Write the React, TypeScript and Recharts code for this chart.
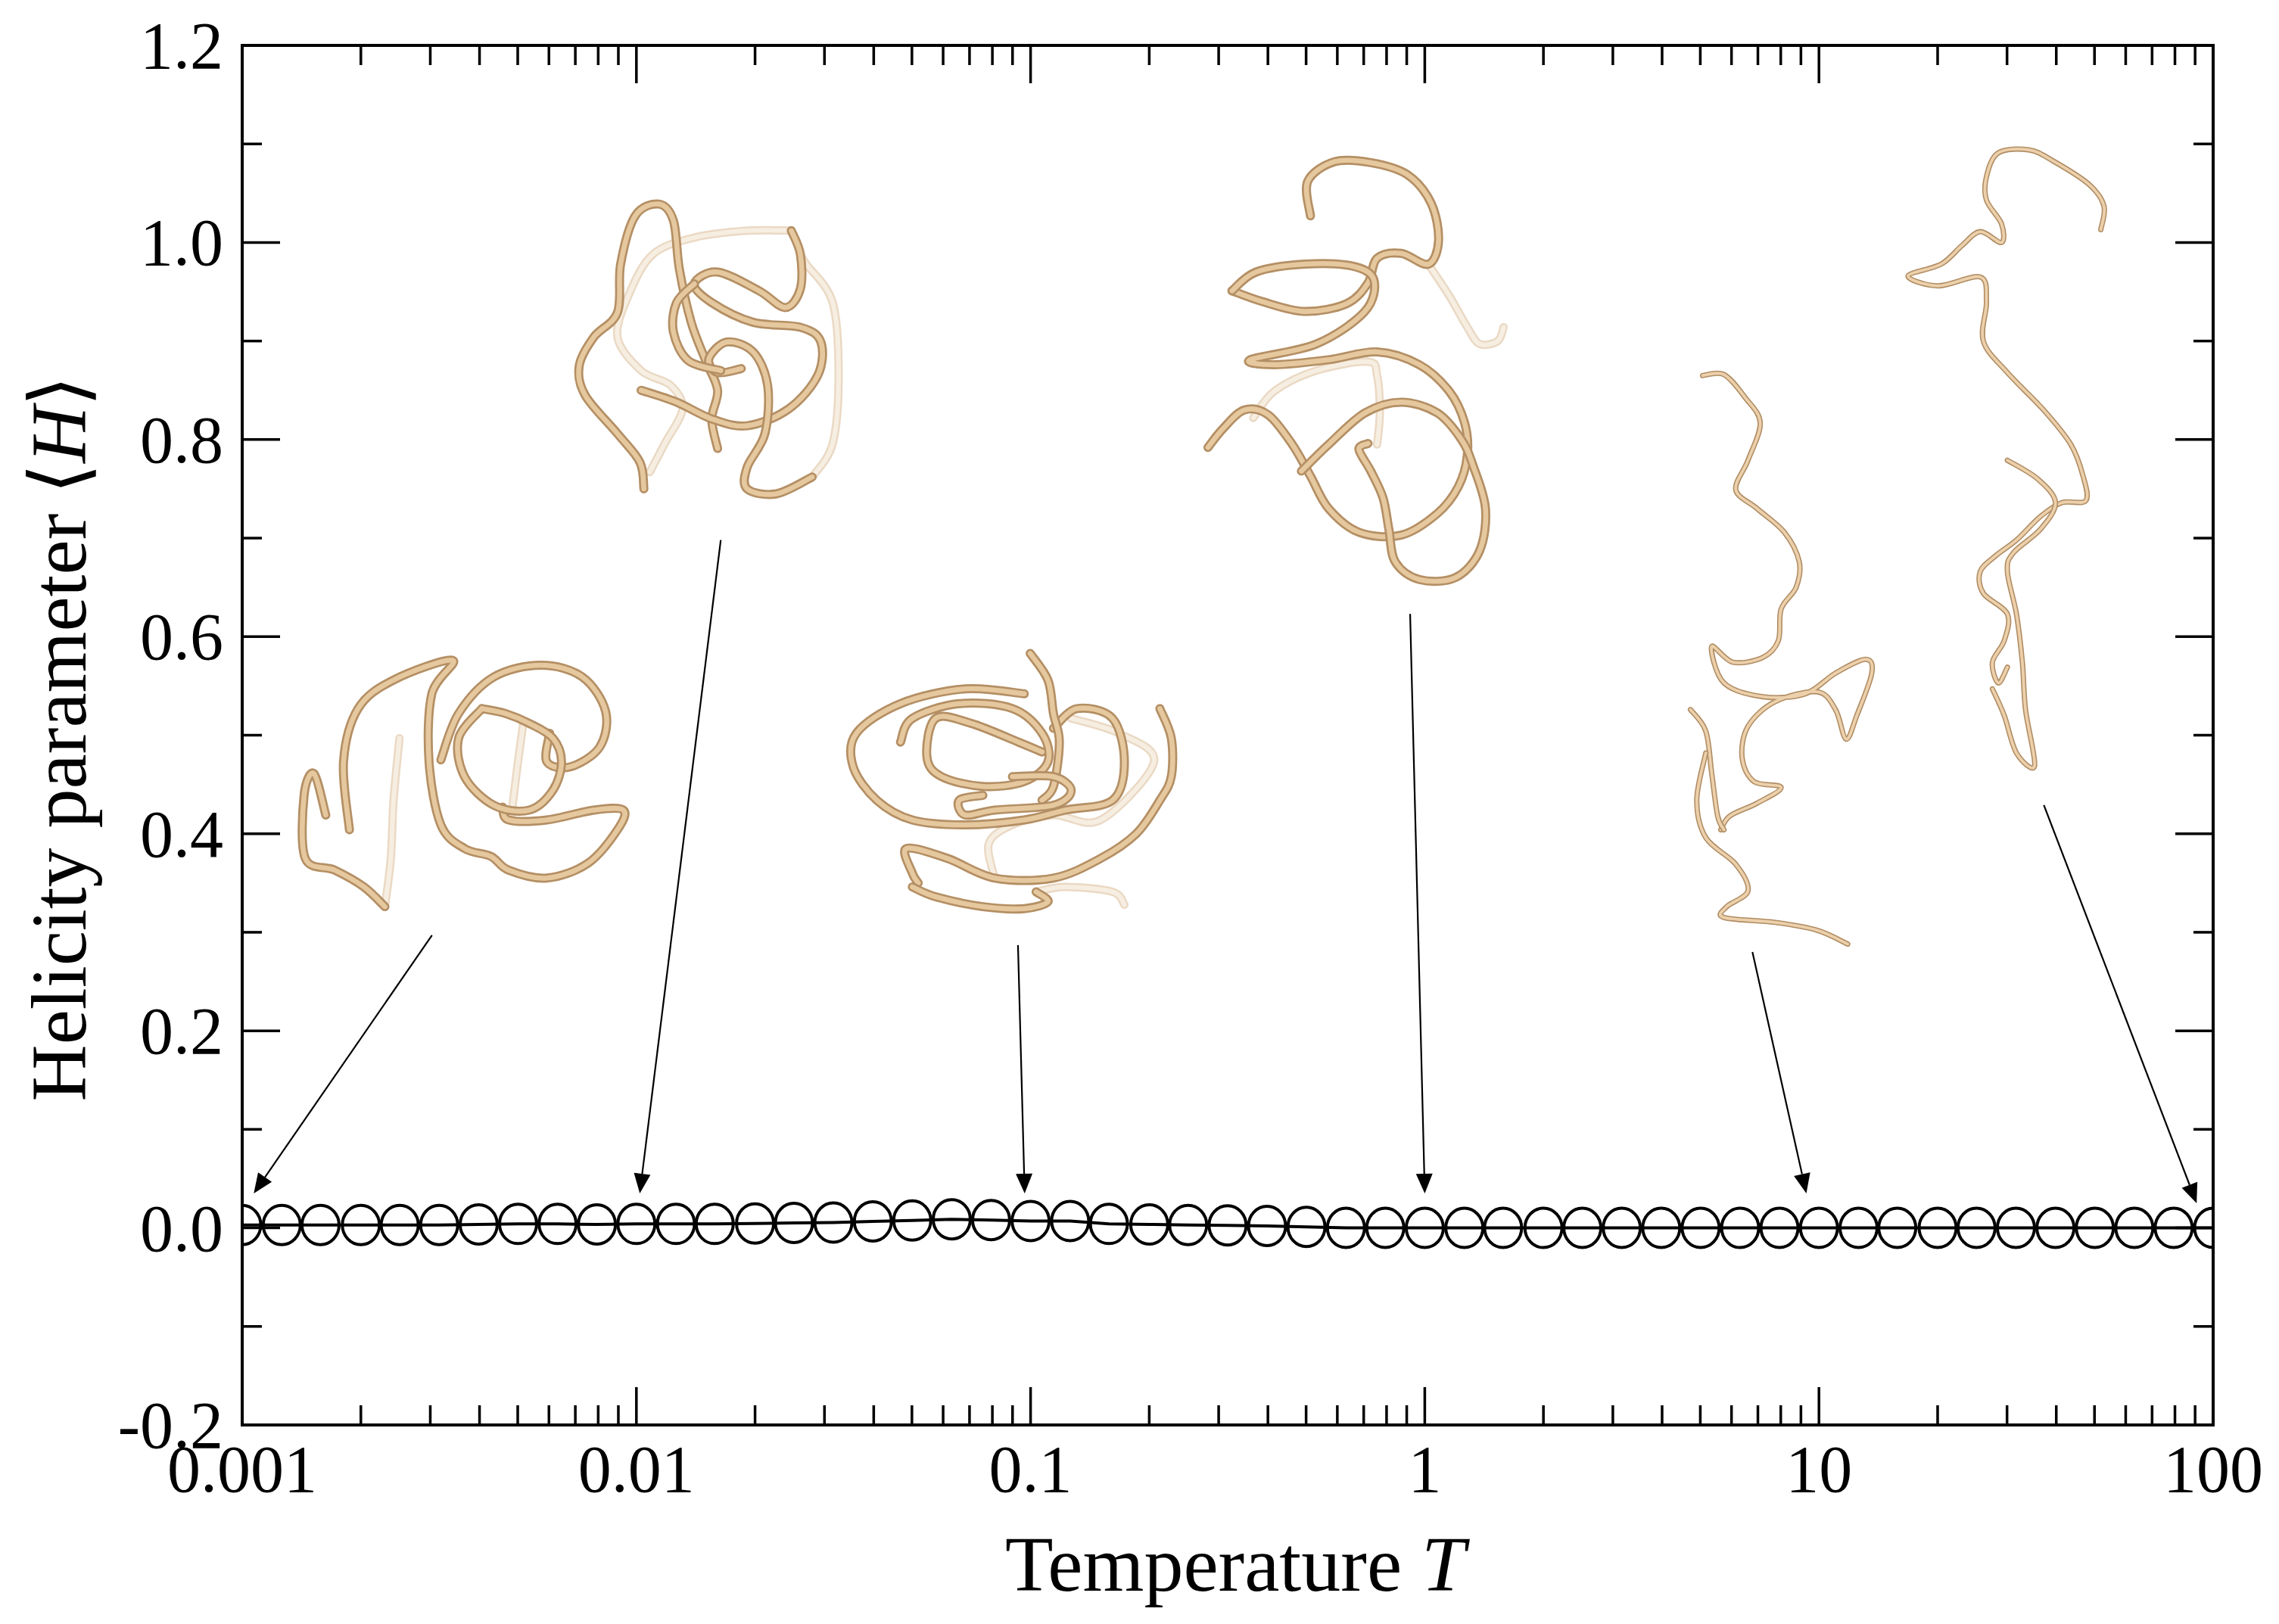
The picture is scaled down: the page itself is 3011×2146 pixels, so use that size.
import React from 'react';
import { ComposedChart, Line, Scatter, XAxis, YAxis, ReferenceLine } from 'recharts';

// temperature grid (10 points per decade) and mean helicity <H>
const temperature = [
  0.001, 0.00126, 0.00158, 0.002, 0.00251, 0.00316, 0.00398, 0.00501, 0.00631, 0.00794,
  0.01, 0.0126, 0.0158, 0.02, 0.0251, 0.0316, 0.0398, 0.0501, 0.0631, 0.0794,
  0.1, 0.126, 0.158, 0.2, 0.251, 0.316, 0.398, 0.501, 0.631, 0.794,
  1, 1.26, 1.58, 2, 2.51, 3.16, 3.98, 5.01, 6.31, 7.94,
  10, 12.6, 15.8, 20, 25.1, 31.6, 39.8, 50.1, 63.1, 79.4,
  100,
];
const helicity = [
  0.003, 0.003, 0.003, 0.003, 0.003, 0.003, 0.0035, 0.004, 0.004, 0.0035,
  0.004, 0.004, 0.004, 0.0045, 0.005, 0.0055, 0.0065, 0.0075, 0.0087, 0.008,
  0.007, 0.007, 0.004, 0.0035, 0.003, 0.0025, 0.002, 0.001, 0, 0,
  0, 0, 0, 0, 0, 0, 0, 0, 0, 0,
  0, 0, 0, 0, 0, 0, 0, 0, 0, 0,
  0,
];

const xMajorTicks = [0.001, 0.01, 0.1, 1, 10, 100];
const xTickLabels = ['0.001', '0.01', '0.1', '1', '10', '100'];
const xMinorTicks = [
  0.002, 0.003, 0.004, 0.005, 0.006, 0.007, 0.008, 0.009,
  0.02, 0.03, 0.04, 0.05, 0.06, 0.07, 0.08, 0.09,
  0.2, 0.3, 0.4, 0.5, 0.6, 0.7, 0.8, 0.9,
  2, 3, 4, 5, 6, 7, 8, 9,
  20, 30, 40, 50, 60, 70, 80, 90,
];
const yMajorTicks = [-0.2, 0, 0.2, 0.4, 0.6, 0.8, 1.0, 1.2];
const yTickLabels = ['-0.2', '0.0', '0.2', '0.4', '0.6', '0.8', '1.0', '1.2'];
const yMinorTicks = [-0.1, 0.1, 0.3, 0.5, 0.7, 0.9, 1.1];

// arrows from each snapshot down to its temperature (T, H)
const arrowFrom = [
  { T: 0.00303, H: 0.297 },
  { T: 0.01637, H: 0.698 },
  { T: 0.0929, H: 0.287 },
  { T: 0.918, H: 0.623 },
  { T: 6.78, H: 0.28 },
  { T: 37.2, H: 0.429 },
];
const arrowTo = [
  { T: 0.00107, H: 0.035 },
  { T: 0.0102, H: 0.035 },
  { T: 0.0966, H: 0.035 },
  { T: 1.0, H: 0.035 },
  { T: 9.29, H: 0.035 },
  { T: 90.8, H: 0.025 },
];

// snapshot conformations traced as [log10 T, H] in chart units
const coilT0001 = [
  [[-2.788, 0.419], [-2.818, 0.461], [-2.843, 0.439], [-2.84, 0.375], [-2.765, 0.363], [-2.691, 0.346], [-2.638, 0.326]],
  [[-2.728, 0.404], [-2.743, 0.473], [-2.706, 0.527], [-2.616, 0.556], [-2.466, 0.576], [-2.519, 0.542], [-2.526, 0.473],
    [-2.496, 0.409], [-2.436, 0.385], [-2.369, 0.377], [-2.324, 0.363], [-2.227, 0.355], [-2.123, 0.37], [-2.048, 0.404],
    [-2.033, 0.424], [-2.108, 0.424], [-2.227, 0.414], [-2.324, 0.414], [-2.339, 0.427]],
  [[-2.496, 0.475], [-2.451, 0.522], [-2.362, 0.559], [-2.242, 0.571], [-2.137, 0.559], [-2.078, 0.524], [-2.093, 0.488],
    [-2.167, 0.468], [-2.227, 0.473], [-2.22, 0.502]],
  [[-2.392, 0.527], [-2.451, 0.497], [-2.436, 0.458], [-2.362, 0.429], [-2.272, 0.424], [-2.212, 0.444], [-2.19, 0.473],
    [-2.212, 0.497], [-2.272, 0.512], [-2.332, 0.522], [-2.392, 0.527]],
];
const coilT0001Faded = [
  [[-2.638, 0.326], [-2.623, 0.375], [-2.616, 0.434], [-2.601, 0.497]],
  [[-2.317, 0.419], [-2.302, 0.468], [-2.287, 0.512]],
];

const coilT001 = [
  [[-1.981, 0.75], [-1.991, 0.777], [-2.048, 0.806], [-2.13, 0.845], [-2.145, 0.875], [-2.108, 0.904], [-2.048, 0.929],
    [-2.04, 0.978], [-2.003, 1.027], [-1.943, 1.039], [-1.906, 1.022], [-1.891, 0.973], [-1.861, 0.919], [-1.824, 0.88],
    [-1.794, 0.85], [-1.809, 0.821], [-1.794, 0.791]],
  [[-1.988, 0.85], [-1.898, 0.838], [-1.809, 0.821], [-1.719, 0.814], [-1.614, 0.831], [-1.54, 0.865], [-1.532, 0.899],
    [-1.584, 0.914], [-1.704, 0.919], [-1.809, 0.939], [-1.853, 0.958], [-1.794, 0.97], [-1.689, 0.951], [-1.622, 0.934],
    [-1.584, 0.953], [-1.584, 0.988], [-1.607, 1.012]],
  [[-1.554, 0.762], [-1.644, 0.745], [-1.719, 0.75], [-1.719, 0.772], [-1.674, 0.806], [-1.667, 0.855], [-1.704, 0.889],
    [-1.771, 0.899], [-1.816, 0.882], [-1.794, 0.868], [-1.734, 0.872]],
  [[-1.853, 0.958], [-1.898, 0.939], [-1.906, 0.909], [-1.868, 0.88], [-1.786, 0.87]],
];
const coilT001Faded = [
  [[-1.607, 1.012], [-1.719, 1.012], [-1.853, 1.005], [-1.958, 0.988], [-2.018, 0.948], [-2.048, 0.904], [-1.988, 0.87],
    [-1.913, 0.855], [-1.883, 0.831], [-1.928, 0.796], [-1.966, 0.767]],
  [[-1.584, 0.988], [-1.569, 0.978], [-1.502, 0.939], [-1.487, 0.865], [-1.502, 0.796], [-1.554, 0.762]],
];

const coilT01 = [
  [[-1.016, 0.542], [-1.166, 0.547], [-1.33, 0.532], [-1.442, 0.502], [-1.45, 0.468], [-1.39, 0.434], [-1.3, 0.414],
    [-1.166, 0.409], [-1.016, 0.414], [-0.912, 0.424], [-0.792, 0.434], [-0.762, 0.473], [-0.792, 0.517], [-0.882, 0.527],
    [-0.942, 0.507]],
  [[-1.001, 0.583], [-0.956, 0.556], [-0.942, 0.522], [-0.927, 0.493], [-0.942, 0.448], [-0.971, 0.434]],
  [[-1.33, 0.493], [-1.3, 0.517], [-1.181, 0.532], [-1.046, 0.527], [-0.971, 0.502], [-0.956, 0.473], [-1.016, 0.453],
    [-1.121, 0.448], [-1.226, 0.458], [-1.263, 0.478], [-1.241, 0.517], [-1.151, 0.512], [-1.031, 0.493], [-0.971, 0.483]],
  [[-1.046, 0.458], [-0.942, 0.458], [-0.897, 0.444], [-0.942, 0.429], [-1.091, 0.424], [-1.166, 0.419], [-1.181, 0.434],
    [-1.121, 0.439]],
  [[-0.672, 0.527], [-0.643, 0.497], [-0.643, 0.458], [-0.672, 0.434], [-0.732, 0.4], [-0.822, 0.375], [-0.942, 0.355],
    [-1.091, 0.355], [-1.211, 0.375], [-1.315, 0.385], [-1.3, 0.36], [-1.285, 0.35]],
  [[-1.3, 0.346], [-1.241, 0.336], [-1.121, 0.326], [-1.016, 0.324], [-0.956, 0.331], [-0.986, 0.341]],
];
const coilT01Faded = [
  [[-1.091, 0.355], [-1.106, 0.39], [-1.046, 0.409], [-0.942, 0.419], [-0.822, 0.414], [-0.687, 0.473], [-0.777, 0.502],
    [-0.897, 0.517]],
  [[-0.986, 0.341], [-0.912, 0.346], [-0.792, 0.341], [-0.762, 0.328]],
];

const coilT1 = [
  [[-0.29, 1.027], [-0.297, 1.062], [-0.229, 1.082], [-0.137, 1.081], [-0.045, 1.069], [0.016, 1.04], [0.035, 1.002],
    [0.009, 0.978], [-0.06, 0.989], [-0.121, 0.984], [-0.144, 0.959], [-0.198, 0.938], [-0.305, 0.93], [-0.412, 0.94],
    [-0.489, 0.951]],
  [[-0.489, 0.951], [-0.428, 0.97], [-0.305, 0.978], [-0.183, 0.976], [-0.129, 0.962], [-0.152, 0.93], [-0.275, 0.897],
    [-0.443, 0.881], [-0.382, 0.876], [-0.244, 0.881], [-0.121, 0.889], [-0.014, 0.876], [0.062, 0.849], [0.101, 0.817],
    [0.108, 0.784], [0.085, 0.752], [0.032, 0.725], [-0.06, 0.703], [-0.167, 0.706], [-0.244, 0.73], [-0.29, 0.763],
    [-0.336, 0.795], [-0.397, 0.825], [-0.458, 0.83], [-0.512, 0.811], [-0.55, 0.792]],
  [[-0.313, 0.768], [-0.244, 0.795], [-0.152, 0.827], [-0.06, 0.838], [0.032, 0.827], [0.093, 0.8], [0.123, 0.773],
    [0.154, 0.73], [0.139, 0.687], [0.078, 0.66], [-0.014, 0.658], [-0.075, 0.676], [-0.091, 0.709], [-0.106, 0.741],
    [-0.137, 0.768], [-0.167, 0.79], [-0.144, 0.796]],
];
const coilT1Faded = [
  [[-0.121, 0.795], [-0.114, 0.827], [-0.121, 0.865], [-0.144, 0.879], [-0.275, 0.87], [-0.382, 0.849], [-0.435, 0.822]],
  [[0.009, 0.978], [0.062, 0.946], [0.108, 0.914], [0.139, 0.897], [0.185, 0.9], [0.2, 0.914]],
];

const coilT10 = [
  [[0.705, 0.865], [0.759, 0.866], [0.812, 0.843], [0.851, 0.817], [0.82, 0.779], [0.789, 0.749], [0.843, 0.73],
    [0.912, 0.706], [0.95, 0.676], [0.942, 0.65], [0.904, 0.628], [0.897, 0.596], [0.858, 0.579], [0.782, 0.574],
    [0.728, 0.59], [0.759, 0.553], [0.858, 0.539], [0.965, 0.542], [1.042, 0.563], [1.118, 0.577], [1.134, 0.563],
    [1.096, 0.52], [1.069, 0.496], [1.042, 0.526], [0.996, 0.544], [0.889, 0.534], [0.82, 0.509], [0.805, 0.477],
    [0.835, 0.453], [0.904, 0.447], [0.843, 0.431], [0.774, 0.418], [0.751, 0.404]],
  [[0.674, 0.526], [0.713, 0.504], [0.728, 0.461], [0.743, 0.418], [0.759, 0.404]],
  [[0.713, 0.482], [0.69, 0.434], [0.713, 0.396], [0.789, 0.369], [0.82, 0.342], [0.766, 0.326], [0.759, 0.315],
    [0.889, 0.31], [0.996, 0.302], [1.073, 0.288]],
];

const coilT100 = [
  [[1.715, 1.013], [1.723, 1.037], [1.685, 1.059], [1.593, 1.083], [1.532, 1.094], [1.455, 1.091], [1.425, 1.067],
    [1.425, 1.043], [1.463, 1.019], [1.463, 1.0], [1.409, 1.011], [1.363, 0.997], [1.31, 0.978], [1.226, 0.966],
    [1.302, 0.956], [1.409, 0.965], [1.425, 0.94], [1.417, 0.9], [1.478, 0.868], [1.57, 0.83], [1.639, 0.795],
    [1.67, 0.763], [1.677, 0.738], [1.616, 0.736], [1.562, 0.722], [1.501, 0.698], [1.448, 0.682], [1.409, 0.666],
    [1.417, 0.644], [1.478, 0.623], [1.47, 0.596], [1.44, 0.574], [1.455, 0.553], [1.478, 0.569]],
  [[1.478, 0.779], [1.555, 0.76], [1.6, 0.736], [1.562, 0.709], [1.493, 0.685], [1.478, 0.666], [1.501, 0.623],
    [1.516, 0.574], [1.524, 0.526], [1.547, 0.469], [1.501, 0.482], [1.47, 0.52], [1.44, 0.547]],
];

const SERIF = "'Liberation Serif', 'Times New Roman', Times, serif";

const series = temperature.map((t, i) => ({ x: t, y: helicity[i] }));
const xTicks = [...xMajorTicks, ...xMinorTicks].sort((a, b) => a - b);
const yTicks = [...yMajorTicks, ...yMinorTicks].sort((a, b) => a - b);
const frameLine = { stroke: '#000', strokeWidth: 4, strokeLinecap: 'square' as const };

// smooth Catmull-Rom curve for the traced tubes
const catmullRom = (context: any) => {
  let pts: number[][] = [];
  return {
    areaStart() {},
    areaEnd() {},
    lineStart() {
      pts = [];
    },
    point(x: number, y: number) {
      pts.push([+x, +y]);
    },
    lineEnd() {
      if (!pts.length) return;
      context.moveTo(pts[0][0], pts[0][1]);
      for (let i = 0; i < pts.length - 1; i++) {
        const p0 = pts[i - 1] || pts[i];
        const p1 = pts[i];
        const p2 = pts[i + 1];
        const p3 = pts[i + 2] || p2;
        context.bezierCurveTo(
          p1[0] + (p2[0] - p0[0]) / 6, p1[1] + (p2[1] - p0[1]) / 6,
          p2[0] - (p3[0] - p1[0]) / 6, p2[1] - (p3[1] - p1[1]) / 6,
          p2[0], p2[1],
        );
      }
    },
  };
};

const noShape = () => <g />;

const tube = (key: string, strand: number[][], edge: string, core: string, w: number) => {
  const data = strand.map(([lg, h]) => ({ x: 10 ** lg, y: h }));
  return [
    <Scatter key={key + 'e'} data={data} shape={noShape} lineJointType={catmullRom as any} legendType="none"
      line={{ stroke: edge, strokeWidth: w, strokeLinecap: 'round', strokeLinejoin: 'round' }} isAnimationActive={false} />,
    <Scatter key={key + 'c'} data={data} shape={noShape} lineJointType={catmullRom as any} legendType="none"
      line={{ stroke: core, strokeWidth: w * 0.55, strokeLinecap: 'round', strokeLinejoin: 'round' }} isAnimationActive={false} />,
  ];
};

const Ring = (p: any) => {
  if (p.cx == null || p.cy == null) return <g key={p.index} />;
  return <ellipse key={p.index} cx={p.cx} cy={p.cy} rx={24.5} ry={26} fill="none" stroke="#000" strokeWidth={4} />;
};

const Arrow = (p: any) => {
  const { x1, y1, x2, y2 } = p;
  const dx = x2 - x1;
  const dy = y2 - y1;
  const len = Math.hypot(dx, dy) || 1;
  const ux = dx / len;
  const uy = dy / len;
  const bx = x2 - ux * 26;
  const by = y2 - uy * 26;
  return (
    <g>
      <line x1={x1} y1={y1} x2={bx} y2={by} stroke="#000" strokeWidth={2.2} />
      <polygon points={`${x2},${y2} ${bx - uy * 11},${by + ux * 11} ${bx + uy * 11},${by - ux * 11}`} fill="#000" />
    </g>
  );
};

const makeXTick = (side: 'bottom' | 'top') => (p: any) => {
  const { x, y, payload } = p;
  const i = xMajorTicks.indexOf(payload.value);
  const len = i >= 0 ? 50 : 26;
  const dir = side === 'bottom' ? -1 : 1;
  return (
    <g>
      <line x1={x} y1={y} x2={x} y2={y + dir * len} stroke="#000" strokeWidth={3.5} />
      {side === 'bottom' && i >= 0 && (
        <text x={x} y={y + 88} textAnchor="middle" fontSize={88} fontFamily={SERIF} fill="#000">
          {xTickLabels[i]}
        </text>
      )}
    </g>
  );
};

const makeYTick = (side: 'left' | 'right') => (p: any) => {
  const { x, y, payload } = p;
  const i = yMajorTicks.indexOf(payload.value);
  const len = i >= 0 ? 50 : 26;
  const dir = side === 'left' ? 1 : -1;
  return (
    <g>
      <line x1={x} y1={y} x2={x + dir * len} y2={y} stroke="#000" strokeWidth={3.5} />
      {side === 'left' && i >= 0 && (
        <text x={x - 25} y={y + 30} textAnchor="end" fontSize={88} fontFamily={SERIF} fill="#000">
          {yTickLabels[i]}
        </text>
      )}
    </g>
  );
};

const YTitle = (p: any) => {
  const vb = p.viewBox || { x: 120, y: 60, width: 200, height: 1823 };
  const cx = vb.x - 7;
  const cy = vb.y + vb.height / 2 + 4;
  return (
    <text x={cx} y={cy} transform={`rotate(-90 ${cx} ${cy})`} textAnchor="middle" fontSize={104} fontFamily={SERIF} fill="#000">
      Helicity parameter ⟨<tspan fontStyle="italic">H</tspan>⟩
    </text>
  );
};

const XTitle = (p: any) => {
  const vb = p.viewBox || { x: 320, y: 1883, width: 2604, height: 240 };
  return (
    <text x={vb.x + vb.width / 2 + 10} y={vb.y + 219} textAnchor="middle" fontSize={104} fontFamily={SERIF} fill="#000">
      Temperature <tspan fontStyle="italic">T</tspan>
    </text>
  );
};

const thickCoils = [
  { id: 'a', dark: coilT0001, faded: coilT0001Faded },
  { id: 'b', dark: coilT001, faded: coilT001Faded },
  { id: 'c', dark: coilT01, faded: coilT01Faded },
  { id: 'd', dark: coilT1, faded: coilT1Faded },
];
const thinCoils = [
  { id: 'e', dark: coilT10 },
  { id: 'f', dark: coilT100 },
];

export default function App() {
  return (
    <div style={{ width: 3011, height: 2146, background: '#fff' }}>
      <style>{'body{margin:0}'}</style>
      <ComposedChart width={3011} height={2146} margin={{ top: 40, right: 67, bottom: 23, left: 120 }}>
        <XAxis
          dataKey="x" type="number" scale="log" domain={[0.001, 100]} allowDataOverflow
          ticks={xTicks} interval={0} tickSize={0} tickMargin={0} tickLine={false}
          axisLine={frameLine} tick={makeXTick('bottom')} height={240} label={{ content: XTitle }}
        />
        <XAxis
          xAxisId="top" orientation="top" dataKey="x" type="number" scale="log" domain={[0.001, 100]} allowDataOverflow
          ticks={xTicks} interval={0} tickSize={0} tickMargin={0} tickLine={false}
          axisLine={frameLine} tick={makeXTick('top')} height={20}
        />
        <YAxis
          dataKey="y" type="number" domain={[-0.2, 1.2]} allowDataOverflow
          ticks={yTicks} interval={0} tickSize={0} tickMargin={0} tickLine={false}
          axisLine={frameLine} tick={makeYTick('left')} width={200} label={{ content: YTitle }}
        />
        <YAxis
          yAxisId="right" orientation="right" dataKey="y" type="number" domain={[-0.2, 1.2]} allowDataOverflow
          ticks={yTicks} interval={0} tickSize={0} tickMargin={0} tickLine={false}
          axisLine={frameLine} tick={makeYTick('right')} width={20}
        />

        {thickCoils.flatMap((c) => [
          ...c.faded.flatMap((s, j) => tube(`${c.id}f${j}`, s, '#ead9c4', '#f7eee2', 11)),
          ...c.dark.flatMap((s, j) => tube(`${c.id}d${j}`, s, '#b48f64', '#e6c89f', 12)),
        ])}
        {thinCoils.flatMap((c) => c.dark.flatMap((s, j) => tube(`${c.id}d${j}`, s, '#b08c63', '#ebd0ab', 7)))}

        {arrowFrom.map((a, i) => (
          <ReferenceLine
            key={`arrow${i}`}
            segment={[{ x: a.T, y: a.H }, { x: arrowTo[i].T, y: arrowTo[i].H }]}
            shape={Arrow}
            ifOverflow="visible"
          />
        ))}

        <Line
          xAxisId="top" yAxisId="right" data={series} dataKey="y" stroke="none"
          dot={false} activeDot={false} legendType="none" isAnimationActive={false}
        />
        <Line
          data={series} dataKey="y" type="linear" stroke="#000" strokeWidth={4}
          dot={Ring} activeDot={false} isAnimationActive={false}
        />
      </ComposedChart>
    </div>
  );
}
